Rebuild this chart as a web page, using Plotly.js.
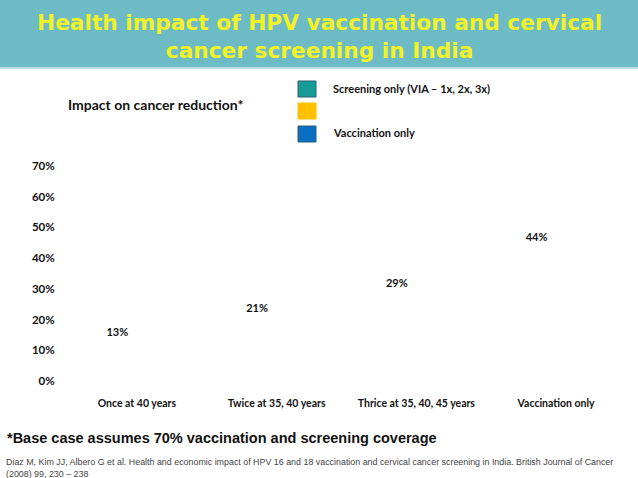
<!DOCTYPE html>
<html>
<head>
<meta charset="utf-8">
<script src="https://cdn.plot.ly/plotly-3.0.1.min.js"></script>
<style>
  html, body { margin: 0; padding: 0; background: #fff; }
  #chart { width: 638px; height: 478px; }
</style>
</head>
<body>
<div id="chart"></div>
<script>
// Scenario categories along the x axis
const categories = ['Once at 40 years', 'Twice at 35, 40 years', 'Thrice at 35, 40, 45 years', 'Vaccination only'];
// Cancer reduction (%) per strategy
const screeningValues = [13, 21, 29, null];
const vaccinationValues = [null, null, null, 44];
// Series names and colours used in the key
const seriesNames = ['Screening only (VIA \u2013 1x, 2x, 3x)', '', 'Vaccination only'];
const seriesColors = ['#179b96', '#ffc000', '#0a6fc2'];
const yTickValues = [0, 10, 20, 30, 40, 50, 60, 70];
const yTickLabels = ['0%', '10%', '20%', '30%', '40%', '50%', '60%', '70%'];

const W = 638, H = 478;
const M = { l: 67, r: 12, t: 166, b: 97 };
const PW = W - M.l - M.r, PH = H - M.t - M.b;
// pixel -> paper coordinate helpers
const px = x => (x - M.l) / PW;
const py = y => (H - M.b - y) / PH;

const labelFont = { family: 'Lato, "Open Sans", sans-serif', size: 11, color: '#111' };

function barTrace(vals, name, color) {
  return {
    type: 'bar', x: categories, y: vals, name: name,
    width: 0.3, offset: -0.29,
    marker: { color: color, opacity: 0 },
    text: vals.map(v => v == null ? '' : v + '%'),
    textposition: 'outside', cliponaxis: false,
    textfont: Object.assign({}, labelFont, { weight: 700 }),
    hoverinfo: 'skip', showlegend: false
  };
}

const data = [
  barTrace(screeningValues, seriesNames[0], seriesColors[0]),
  barTrace(vaccinationValues, seriesNames[2], seriesColors[2])
];

const shapes = [
  // title banner
  { type: 'rect', xref: 'paper', yref: 'paper', x0: px(0), x1: px(W), y0: py(0), y1: py(67),
    fillcolor: '#6dbcc5', line: { width: 0 }, layer: 'below' },
  { type: 'line', xref: 'paper', yref: 'paper', x0: px(0), x1: px(W), y0: py(68), y1: py(68),
    line: { color: '#b9dde2', width: 2 } }
];
const annotations = [
  { xref: 'paper', yref: 'paper', x: px(319), y: py(37), xanchor: 'center', yanchor: 'middle',
    showarrow: false, align: 'center',
    text: 'Health impact of HPV vaccination and cervical<br>cancer screening in India',
    font: { family: '"DejaVu Sans", sans-serif', size: 21.7, color: '#f2f226', weight: 700 } },
  { xref: 'paper', yref: 'paper', x: px(66), y: py(104), xanchor: 'left', yanchor: 'middle',
    showarrow: false, text: 'Impact on cancer reduction*',
    font: { family: 'Lato, sans-serif', size: 14, color: '#111', weight: 700 } },
  { xref: 'paper', yref: 'paper', x: px(5), y: py(438), xanchor: 'left', yanchor: 'middle',
    showarrow: false, text: '*Base case assumes 70% vaccination and screening coverage',
    font: { family: '"Liberation Sans", Arial, sans-serif', size: 14.5, color: '#111', weight: 700 } },
  { xref: 'paper', yref: 'paper', x: px(4), y: py(468), xanchor: 'left', yanchor: 'middle',
    showarrow: false, align: 'left',
    text: 'Diaz M, Kim JJ, Albero G et al. Health and economic impact of HPV 16 and 18 vaccination and cervical cancer screening in India. British Journal of Cancer<br>(2008) 99, 230 \u2013 238',
    font: { family: '"Liberation Sans", Arial, sans-serif', size: 8.9, color: '#444' } }
];

// key: coloured squares with series names
const keyRows = [89, 111, 134];
seriesNames.forEach((name, i) => {
  const yc = keyRows[i];
  shapes.push({ type: 'rect', xref: 'paper', yref: 'paper',
    x0: px(298), x1: px(316), y0: py(yc - 8), y1: py(yc + 8),
    fillcolor: seriesColors[i], line: { color: i === 1 ? seriesColors[i] : '#2b5f77', width: 1 } });
  if (name) {
    annotations.push({ xref: 'paper', yref: 'paper', x: px(331), y: py(yc - 1), xanchor: 'left', yanchor: 'middle',
      showarrow: false, text: name,
      font: { family: 'Lato, sans-serif', size: 11, color: '#111', weight: 700 } });
  }
});

const layout = {
  width: W, height: H, margin: M,
  paper_bgcolor: '#fff', plot_bgcolor: 'rgba(0,0,0,0)',
  showlegend: false, bargap: 0.4,
  xaxis: {
    type: 'category', range: [-0.5, 3.5], showgrid: false, zeroline: false, showline: false,
    ticks: 'outside', ticklen: 12, tickcolor: 'rgba(0,0,0,0)',
    tickfont: { family: 'Lato, sans-serif', size: 10.5, color: '#111', weight: 700 }
  },
  yaxis: {
    range: [0, 70], tickvals: yTickValues, ticktext: yTickLabels,
    showgrid: false, zeroline: false, showline: false,
    ticks: 'outside', ticklen: 9, tickcolor: 'rgba(0,0,0,0)',
    tickfont: { family: 'Lato, sans-serif', size: 11.5, color: '#111', weight: 700 }
  },
  shapes: shapes, annotations: annotations
};

Plotly.newPlot('chart', data, layout, { staticPlot: true, displayModeBar: false });
</script>
</body>
</html>
